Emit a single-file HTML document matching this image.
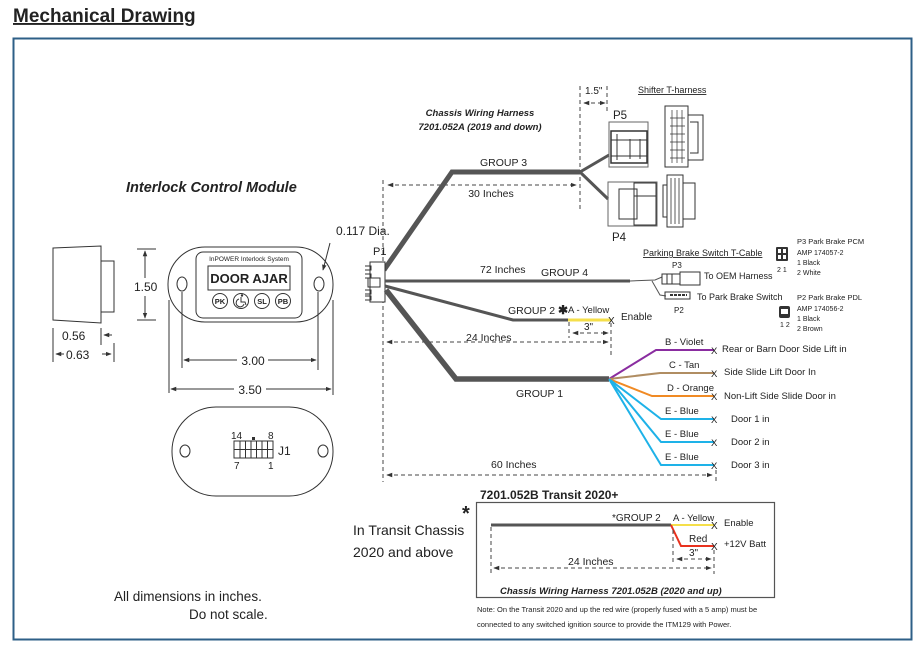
<!DOCTYPE html>
<html><head><meta charset="utf-8"><style>
html,body{margin:0;padding:0;background:#fff;width:918px;height:646px;overflow:hidden}
svg{display:block}
text{font-family:"Liberation Sans Narrow","Liberation Sans",sans-serif;fill:#222}
.s{font-family:"Liberation Sans",sans-serif}
.w{fill:none;stroke:#555;stroke-linecap:butt;stroke-linejoin:miter}
.d{fill:none;stroke:#444;stroke-width:1;stroke-dasharray:4 3}
.l{fill:none;stroke:#333;stroke-width:1}
.bi{font-family:"Liberation Sans",sans-serif;font-weight:bold;font-style:italic}
</style></head><body>
<svg width="918" height="646" viewBox="0 0 918 646" xmlns="http://www.w3.org/2000/svg">
<defs>
<marker id="a" viewBox="0 0 8 8" refX="7" refY="4" markerWidth="6" markerHeight="6" orient="auto-start-reverse"><path d="M0,1 L8,4 L0,7 z" fill="#333"/></marker>
</defs>
<text x="13" y="22" class="s" font-size="19" font-weight="bold" fill="#222" text-decoration="underline">Mechanical Drawing</text>
<rect x="13.5" y="38.5" width="898" height="601" fill="none" stroke="#2e5f87" stroke-width="2"/>

<!-- side view -->
<path d="M53,248 L101,246 L101,323 L53,320 Z" class="l"/>
<rect x="101" y="261" width="13" height="51" class="l"/>
<line x1="53" y1="328" x2="53" y2="362" class="l"/>
<line x1="101" y1="328" x2="101" y2="345" class="l"/>
<line x1="114" y1="343" x2="114" y2="362" class="l"/>
<line x1="112" y1="335" x2="104" y2="335" class="l" marker-end="url(#a)"/>
<text x="62" y="340" font-size="12">0.56</text>
<line x1="64" y1="354" x2="56" y2="354" class="l" marker-end="url(#a)"/>
<line x1="102" y1="354" x2="111" y2="354" class="l" marker-end="url(#a)"/>
<text x="66" y="359" font-size="12">0.63</text>
<!-- 1.50 -->
<line x1="137" y1="249" x2="156" y2="249" class="l"/>
<line x1="137" y1="320" x2="156" y2="320" class="l"/>
<line x1="145" y1="278" x2="145" y2="251" class="l" marker-end="url(#a)"/>
<line x1="145" y1="296" x2="145" y2="318" class="l" marker-end="url(#a)"/>
<text x="134" y="291" font-size="12">1.50</text>

<!-- front view -->
<rect x="168" y="247" width="165" height="75" rx="37" class="l" stroke-width="1.2"/>
<rect x="196" y="252" width="106" height="66" rx="7" class="l"/>
<text x="249" y="261" font-size="6.5" text-anchor="middle" class="s">InPOWER  Interlock System</text>
<rect x="208" y="266" width="82" height="24" class="l"/>
<text x="249" y="283" font-size="13" font-weight="bold" text-anchor="middle" class="s">DOOR AJAR</text>
<circle cx="220" cy="301" r="7.5" class="l"/><text x="220" y="304" font-size="7.5" font-weight="bold" text-anchor="middle" class="s">PK</text>
<circle cx="241" cy="301" r="7.5" class="l"/><circle cx="242" cy="295.5" r="1.2" fill="#333"/><path d="M241,297v5h4l1,3M239,299a4,4 0 1 0 5,5" class="l" stroke-width="0.8"/>
<circle cx="262" cy="301" r="7.5" class="l"/><text x="262" y="304" font-size="7.5" font-weight="bold" text-anchor="middle" class="s">SL</text>
<circle cx="283" cy="301" r="7.5" class="l"/><text x="283" y="304" font-size="7.5" font-weight="bold" text-anchor="middle" class="s">PB</text>
<ellipse cx="182" cy="284" rx="5" ry="7" class="l"/>
<ellipse cx="319" cy="284" rx="5" ry="7" class="l"/>
<text x="336" y="235" font-size="12">0.117 Dia.</text>
<line x1="330" y1="243" x2="323" y2="270" class="l" marker-end="url(#a)"/>
<!-- 3.00 / 3.50 -->
<line x1="182" y1="292" x2="182" y2="368" class="l"/>
<line x1="318" y1="292" x2="318" y2="370" class="l"/>
<line x1="237" y1="360" x2="184" y2="360" class="l" marker-end="url(#a)"/>
<line x1="268" y1="360" x2="316" y2="360" class="l" marker-end="url(#a)"/>
<text x="253" y="365" font-size="12" text-anchor="middle">3.00</text>
<line x1="169" y1="300" x2="169" y2="393" class="l"/>
<line x1="333" y1="300" x2="333" y2="395" class="l"/>
<line x1="234" y1="389" x2="171" y2="389" class="l" marker-end="url(#a)"/>
<line x1="266" y1="389" x2="331" y2="389" class="l" marker-end="url(#a)"/>
<text x="250" y="394" font-size="12" text-anchor="middle">3.50</text>

<!-- back view -->
<rect x="172" y="407" width="161" height="89" rx="44" class="l" stroke-width="1.2"/>
<ellipse cx="185" cy="451" rx="5" ry="6" class="l"/>
<ellipse cx="323" cy="451" rx="5" ry="6" class="l"/>
<rect x="234" y="441" width="39" height="17" class="l" fill="#eee"/>
<line x1="234" y1="449.5" x2="273" y2="449.5" class="l"/>
<path d="M240,441v17M245.5,441v17M251,441v17M256.5,441v17M262,441v17M267.5,441v17" class="l" stroke-width="0.8"/>
<rect x="252" y="437" width="3" height="3" fill="#333"/>
<text x="231" y="439" font-size="10">14</text>
<text x="268" y="439" font-size="10">8</text>
<text x="234" y="469" font-size="10">7</text>
<text x="268" y="469" font-size="10">1</text>
<text x="278" y="455" font-size="12">J1</text>

<text x="126" y="192" class="bi" font-size="14.5">Interlock Control Module</text>
<text x="480" y="116" class="bi" font-size="9.5" text-anchor="middle">Chassis Wiring Harness</text>
<text x="480" y="130" class="bi" font-size="9.5" text-anchor="middle">7201.052A (2019 and down)</text>

<!-- dashed dims -->
<line x1="383" y1="180" x2="383" y2="482" class="d"/>
<line x1="580" y1="86" x2="580" y2="212" class="d"/>
<line x1="607" y1="86" x2="607" y2="112" class="d"/>
<line x1="388" y1="185" x2="576" y2="185" class="d" marker-start="url(#a)" marker-end="url(#a)"/>
<text x="491" y="197" font-size="10.5" text-anchor="middle">30 Inches</text>
<line x1="584" y1="103" x2="605" y2="103" class="d" marker-start="url(#a)" marker-end="url(#a)"/>
<text x="585" y="94" font-size="10">1.5"</text>

<!-- group 3 -->
<path d="M384,270 L452,172 L580,172" class="w" stroke-width="5"/>
<path d="M580,172 L609,155 M580,172 L608,199" class="w" stroke-width="3"/>
<text x="480" y="166" font-size="10.5">GROUP 3</text>
<!-- P5 -->
<rect x="609" y="122" width="39" height="45" fill="none" stroke="#666"/>
<rect x="611" y="131" width="36" height="32" fill="none" stroke="#333" stroke-width="1.5"/>
<path d="M617,134v26M630,139v20M640,139v20M611,140h36M611,156h36" class="l"/>
<text x="613" y="119" font-size="11.5">P5</text>
<rect x="665" y="106" width="23" height="61" class="l"/>
<path d="M672,110v53M677,110v53M682,110v53M670,118h15M670,126h15M670,134h15M670,142h15M670,150h15M670,158h15" stroke="#333" stroke-width="0.7"/>
<path d="M688,115h15v45h-15M690,122h8v31h-8" class="l"/>
<!-- P4 -->
<rect x="608" y="182" width="49" height="44" fill="none" stroke="#666"/>
<rect x="619" y="189" width="18" height="30" class="l"/>
<rect x="634" y="183" width="22" height="42" class="l"/>
<line x1="634" y1="196" x2="656" y2="196" class="l"/>
<text x="612" y="241" font-size="11.5">P4</text>
<rect x="667" y="175" width="16" height="52" class="l"/>
<rect x="683" y="183" width="12" height="36" class="l"/>
<path d="M671,178v46M675,178v46M679,178v46" stroke="#333" stroke-width="0.8"/>
<rect x="663" y="185" width="4" height="32" class="l"/>
<text x="638" y="93" font-size="9" text-decoration="underline">Shifter T-harness</text>

<!-- P1 -->
<rect x="370" y="262" width="15" height="40" fill="#fff" stroke="#333"/>
<path d="M365,266h6v4h-6M365,274h6v4h-6M365,290h6v4h-6M365,296h6v4h-6" class="l"/>
<rect x="368" y="278" width="12" height="9" class="l" fill="#ddd"/>
<text x="373" y="255" font-size="11">P1</text>

<!-- group 4 -->
<path d="M385,281 L630,281" class="w" stroke-width="3"/>
<path d="M630,281 L655,280 L662,277 M652,281 L660,295 L666,296" class="w" stroke-width="1"/>
<text x="480" y="273" font-size="10.5">72 Inches</text>
<text x="541" y="276" font-size="10.5">GROUP 4</text>
<text x="643" y="256" font-size="9" text-decoration="underline">Parking Brake Switch T-Cable</text>
<text x="672" y="268" font-size="8">P3</text>
<rect x="662" y="274" width="18" height="10" class="l"/>
<rect x="680" y="272" width="20" height="13" class="l"/>
<path d="M667,274v10M672,274v10" class="l"/>
<text x="704" y="279" font-size="9">To OEM Harness</text>
<rect x="665" y="292" width="25" height="7" class="l"/>
<path d="M670,295h17" stroke="#333" stroke-width="2" stroke-dasharray="3 1"/>
<text x="697" y="300" font-size="9">To Park Brake Switch</text>
<text x="674" y="313" font-size="8">P2</text>
<rect x="776" y="247" width="12" height="14" rx="1" fill="#333"/>
<path d="M778,249h3v4h-3zM783,249h3v4h-3zM778,255h3v4h-3zM783,255h3v4h-3z" fill="#fff"/>
<text x="777" y="272" font-size="7">2 1</text>
<text x="797" y="244" font-size="7.5">P3 Park Brake PCM</text>
<text x="797" y="255" font-size="7">AMP 174057-2</text>
<text x="797" y="265" font-size="7">1 Black</text>
<text x="797" y="275" font-size="7">2 White</text>
<rect x="779" y="306" width="11" height="12" rx="2" fill="#333"/>
<rect x="781" y="309" width="7" height="5" fill="#fff"/>
<text x="780" y="327" font-size="7">1 2</text>
<text x="797" y="300" font-size="7.5">P2 Park Brake PDL</text>
<text x="797" y="311" font-size="7">AMP 174056-2</text>
<text x="797" y="321" font-size="7">1 Black</text>
<text x="797" y="331" font-size="7">2 Brown</text>

<!-- group 2 -->
<path d="M385,286 L513,320 L568,320" class="w" stroke-width="3"/>
<line x1="568" y1="320" x2="611" y2="320" stroke="#f5df4a" stroke-width="3"/>
<text x="508" y="314" font-size="10.5">GROUP 2 <tspan font-size="12" font-weight="bold">✱</tspan></text>
<text x="568" y="313" font-size="9.5">A - Yellow</text>
<text x="608" y="324" font-size="10">X</text>
<text x="621" y="320" font-size="10">Enable</text>
<line x1="569" y1="322" x2="569" y2="338" class="d"/>
<line x1="611" y1="323" x2="611" y2="357" class="d"/>
<line x1="573" y1="333" x2="608" y2="333" class="d" marker-start="url(#a)" marker-end="url(#a)"/>
<text x="584" y="330" font-size="10">3"</text>
<line x1="387" y1="342" x2="608" y2="342" class="d" marker-start="url(#a)" marker-end="url(#a)"/>
<text x="466" y="341" font-size="10.5">24 Inches</text>

<!-- group 1 -->
<path d="M386,290 L456,379 L609,379" class="w" stroke-width="5.5"/>
<text x="516" y="397" font-size="10.5">GROUP 1</text>
<path d="M609,379 L656,350 L714,350" fill="none" stroke="#8a2da0" stroke-width="2"/>
<path d="M609,379 L660,373 L714,373" fill="none" stroke="#b08d62" stroke-width="2"/>
<path d="M609,379 L652,396 L714,396" fill="none" stroke="#f08a24" stroke-width="2"/>
<path d="M609,379 L661,419 L714,419 M609,379 L661,442 L714,442 M609,379 L661,465 L714,465" fill="none" stroke="#1eb2e8" stroke-width="2"/>
<g font-size="9.5">
<text x="665" y="345">B - Violet</text>
<text x="669" y="368">C - Tan</text>
<text x="667" y="391">D - Orange</text>
<text x="665" y="414">E - Blue</text>
<text x="665" y="437">E - Blue</text>
<text x="665" y="460">E - Blue</text>
<text x="711" y="354">X</text><text x="711" y="377">X</text><text x="711" y="400">X</text>
<text x="711" y="423">X</text><text x="711" y="446">X</text><text x="711" y="469">X</text>
<text x="722" y="352">Rear or Barn Door Side Lift in</text>
<text x="724" y="375">Side Slide Lift Door In</text>
<text x="724" y="399">Non-Lift Side Slide Door in</text>
<text x="731" y="422">Door 1 in</text>
<text x="731" y="445">Door 2 in</text>
<text x="731" y="468">Door 3 in</text>
</g>
<line x1="716" y1="470" x2="716" y2="482" class="d"/>
<line x1="387" y1="475" x2="712" y2="475" class="d" marker-start="url(#a)" marker-end="url(#a)"/>
<text x="491" y="468" font-size="10.5">60 Inches</text>

<!-- bottom -->
<text x="353" y="535" class="s" font-size="14">In Transit Chassis</text>
<text x="353" y="557" class="s" font-size="14">2020 and above</text>
<text x="462" y="520" font-size="20" font-weight="bold">*</text>
<text x="480" y="499" font-size="12" font-weight="bold">7201.052B Transit 2020+</text>
<rect x="476.5" y="502.5" width="298" height="95" fill="none" stroke="#555" stroke-width="1.2"/>
<line x1="491" y1="525" x2="671" y2="525" stroke="#555" stroke-width="3"/>
<line x1="671" y1="525" x2="714" y2="525" stroke="#f5df4a" stroke-width="2"/>
<path d="M671,525 L681,546 L714,546" fill="none" stroke="#e8321e" stroke-width="2"/>
<text x="612" y="521" font-size="10">*GROUP 2</text>
<text x="673" y="521" font-size="9.5">A - Yellow</text>
<text x="711" y="529" font-size="10">X</text>
<text x="724" y="526" font-size="9.5">Enable</text>
<text x="689" y="542" font-size="10">Red</text>
<text x="711" y="550" font-size="10">X</text>
<text x="724" y="547" font-size="9.5">+12V Batt</text>
<line x1="673" y1="530" x2="673" y2="563" class="d"/>
<line x1="714" y1="550" x2="714" y2="574" class="d"/>
<line x1="491" y1="527" x2="491" y2="573" class="d"/>
<line x1="677" y1="559" x2="711" y2="559" class="d" marker-start="url(#a)" marker-end="url(#a)"/>
<text x="689" y="556" font-size="10">3"</text>
<line x1="494" y1="568" x2="711" y2="568" class="d" marker-start="url(#a)" marker-end="url(#a)"/>
<text x="568" y="565" font-size="10.5">24 Inches</text>
<text x="500" y="594" class="bi" font-size="9.5">Chassis Wiring Harness  7201.052B (2020 and up)</text>
<text x="477" y="612" class="s" font-size="7.5">Note:  On the Transit 2020 and up the red wire (properly fused with a 5 amp) must be</text>
<text x="477" y="627" class="s" font-size="7.5">connected to any switched ignition source to provide the ITM129 with Power.</text>
<text x="114" y="601" class="s" font-size="13.5">All dimensions in inches.</text>
<text x="189" y="619" class="s" font-size="13.5">Do not scale.</text>
</svg>
</body></html>
